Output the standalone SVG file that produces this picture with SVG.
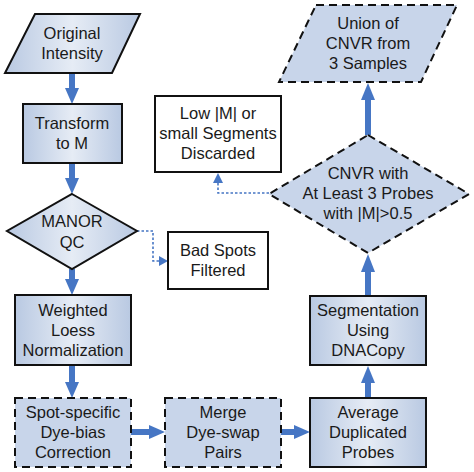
<svg xmlns="http://www.w3.org/2000/svg" width="474" height="472" viewBox="0 0 474 472">
<defs>
<linearGradient id="g" x1="0" y1="0" x2="1" y2="0">
<stop offset="0" stop-color="#b9c9e2"/><stop offset="0.5" stop-color="#e6ecf5"/><stop offset="1" stop-color="#b9c9e2"/>
</linearGradient>
</defs>
<style>
.n{stroke:#111;stroke-width:2;fill:url(#g)}
.d{stroke:#111;stroke-width:2;fill:#c8d5ea;stroke-dasharray:8,5}
.w{stroke:#111;stroke-width:2;fill:#fff}
.t{font-family:"Liberation Sans",Arial,sans-serif;font-size:16.5px;fill:#1a1a1a;text-anchor:middle}
.a{stroke:#4676c4;stroke-width:6;fill:none}
.h{fill:#4676c4}
.s{stroke:#4676c4;stroke-width:1.6;fill:none;stroke-dasharray:2.5,2}
</style>
<rect width="474" height="472" fill="#fff"/>
<g id="connectors">
<path class="a" d="M72,73 V90"/><path class="h" d="M65,88 L79,88 L72,104 Z"/>
<path class="a" d="M72,163 V180"/><path class="h" d="M65,178 L79,178 L72,194 Z"/>
<path class="a" d="M72,269 V281"/><path class="h" d="M65,279 L79,279 L72,295 Z"/>
<path class="a" d="M72,365 V384"/><path class="h" d="M65,382 L79,382 L72,398 Z"/>
<path class="a" d="M131,432 H151"/><path class="h" d="M149,425 L149,439 L165,432 Z"/>
<path class="a" d="M281,432 H296"/><path class="h" d="M294,425 L294,439 L310,432 Z"/>
<path class="a" d="M368,398 V381"/><path class="h" d="M361,383 L375,383 L368,366 Z"/>
<path class="a" d="M368,296 V270"/><path class="h" d="M361,272 L375,272 L368,254 Z"/>
<path class="a" d="M368,135 V98"/><path class="h" d="M361,100 L375,100 L368,83 Z"/>
<path class="s" d="M137,231 H153 V261 H160"/><path class="h" d="M159,256 L159,266 L168,261 Z"/>
<path class="s" d="M269,193 H218 V182"/><path class="h" d="M213,183 L223,183 L218,173 Z"/>
</g>
<g id="original"><polygon class="n" points="35,14 140,14 112,73 5,73"/><text class="t" x="72" y="39">Original</text><text class="t" x="72" y="59">Intensity</text></g>
<g id="transform"><rect class="n" x="23" y="104" width="99" height="59"/><text class="t" x="72" y="129">Transform</text><text class="t" x="72" y="149">to M</text></g>
<g id="manor"><polygon class="n" points="72,194 137,231 72,269 7,231"/><text class="t" x="72" y="227">MANOR</text><text class="t" x="72" y="248">QC</text></g>
<g id="badspots"><rect class="w" x="168" y="232" width="100" height="57"/><text class="t" x="218" y="256">Bad Spots</text><text class="t" x="218" y="276">Filtered</text></g>
<g id="weighted"><rect class="n" x="15" y="295" width="116" height="70"/><text class="t" x="73" y="316">Weighted</text><text class="t" x="73" y="336">Loess</text><text class="t" x="73" y="356">Normalization</text></g>
<g id="spot"><rect class="d" x="15" y="398" width="116" height="69"/><text class="t" x="73" y="418">Spot-specific</text><text class="t" x="73" y="438">Dye-bias</text><text class="t" x="73" y="458">Correction</text></g>
<g id="merge"><rect class="d" x="165" y="398" width="116" height="69"/><text class="t" x="223" y="418">Merge</text><text class="t" x="223" y="438">Dye-swap</text><text class="t" x="223" y="458">Pairs</text></g>
<g id="average"><rect class="n" x="310" y="398" width="116" height="69"/><text class="t" x="368" y="418">Average</text><text class="t" x="368" y="438">Duplicated</text><text class="t" x="368" y="458">Probes</text></g>
<g id="segmentation"><rect class="n" x="310" y="296" width="116" height="69"/><text class="t" x="368" y="316">Segmentation</text><text class="t" x="368" y="336">Using</text><text class="t" x="368" y="356">DNACopy</text></g>
<g id="cnvr"><polygon class="d" points="368,135 469,194 368,253 269,194"/><text class="t" x="368" y="179">CNVR with</text><text class="t" x="368" y="199">At Least 3 Probes</text><text class="t" x="368" y="219">with |M|&gt;0.5</text></g>
<g id="union"><polygon class="d" points="316,5 457,5 421,82 279,82"/><text class="t" x="368" y="29">Union of</text><text class="t" x="368" y="49">CNVR from</text><text class="t" x="368" y="69">3 Samples</text></g>
<g id="low"><rect class="w" x="155" y="96" width="126" height="76"/><text class="t" x="218" y="119">Low |M| or</text><text class="t" x="218" y="139">small Segments</text><text class="t" x="218" y="159">Discarded</text></g>
</svg>
